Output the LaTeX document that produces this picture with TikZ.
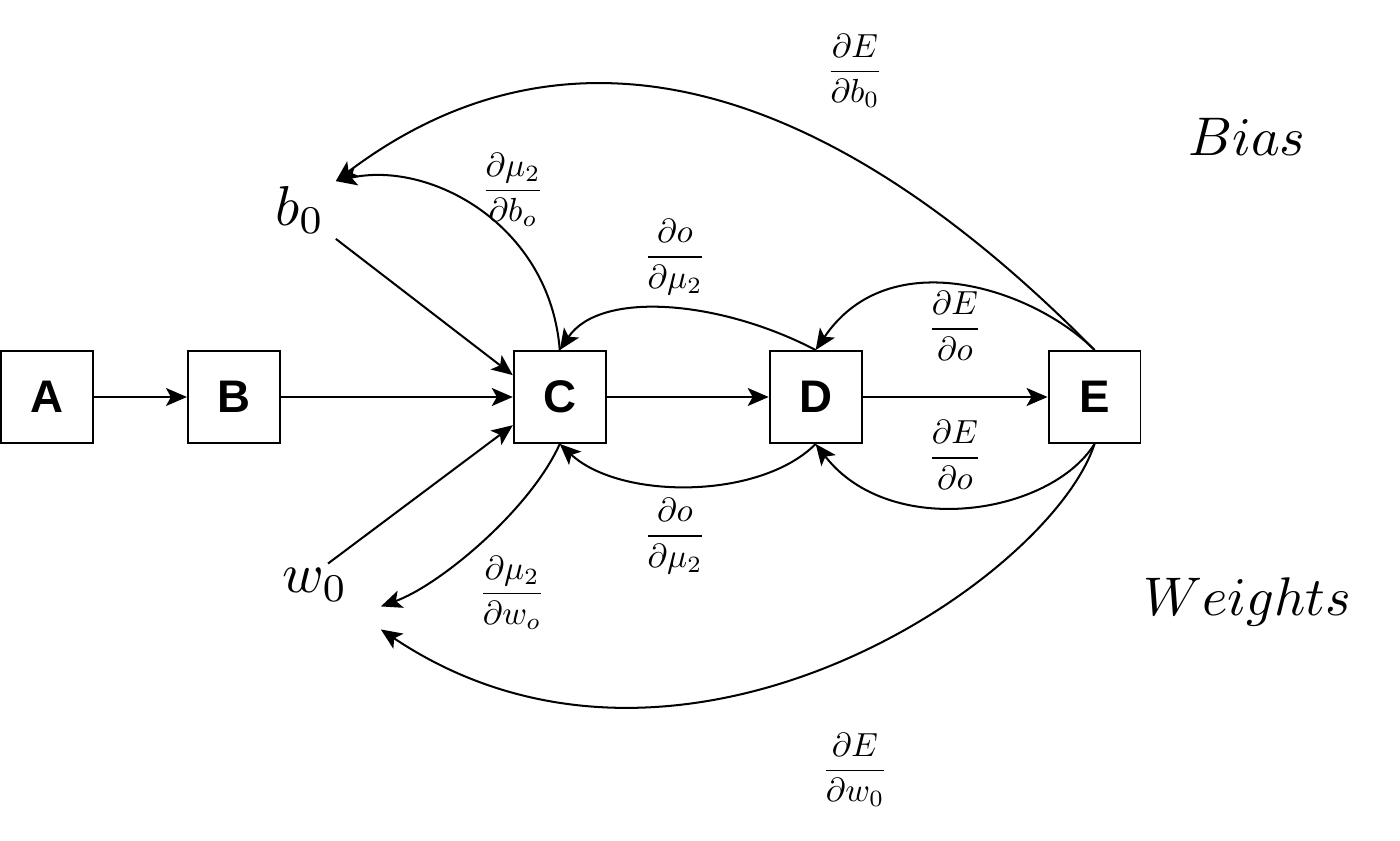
\documentclass[tikz,border=0pt]{standalone}
\usepackage{amsmath}
\usepackage{fontspec}
\newfontfamily\boxfont{Liberation Sans}
\usetikzlibrary{arrows.meta,positioning}

\begin{document}
\begin{tikzpicture}[x=0.02cm,y=0.02cm,blk/.style={draw,line width=1.1pt,minimum size=1.84cm,inner sep=0pt,font=\boxfont\bfseries\fontsize{26}{30}\selectfont},arr/.style={-{Stealth[length=0.42cm,width=0.36cm,inset=0.1cm]},line width=1.15pt},var/.style={scale=3.2},grp/.style={scale=3.1},frc/.style={scale=1.9}]
\useasboundingbox (0,0) rectangle (1400,-841);
\node[blk] (A) at (47,-397) {A};
\node[blk,right=1.86cm of A] (B) {B};
\node[blk,right=4.64cm of B] (C) {C};
\node[blk,right=3.24cm of C] (D) {D};
\node[blk,right=3.70cm of D] (E) {E};
\node[var,inner xsep=0.0625cm,inner ysep=0.025cm] (b0) at (300,-210) {$b_0$};
\node[var,inner xsep=0.2cm,inner ysep=0.025cm] (w0) at (315,-585) {$w_0$};
\node[grp] (bias) at (1247,-137) {$Bias$};
\node[grp] (wts) at (1247,-602) {$Weights$};
% labels of the gradients
\node[frc] (dEb) at (855,-71) {$\dfrac{\partial E}{\partial b_0}$};
\node[frc] (dmb) at (513,-190) {$\dfrac{\partial \mu_2}{\partial b_o}$};
\node[frc] (doa) at (675,-257) {$\dfrac{\partial o}{\partial \mu_2}$};
\node[frc] (dEa) at (955,-326) {$\dfrac{\partial E}{\partial o}$};
\node[frc] (dEc) at (955,-455) {$\dfrac{\partial E}{\partial o}$};
\node[frc] (doc) at (675,-536) {$\dfrac{\partial o}{\partial \mu_2}$};
\node[frc] (dmw) at (512,-593) {$\dfrac{\partial \mu_2}{\partial w_o}$};
\node[frc] (dEw) at (855,-770) {$\dfrac{\partial E}{\partial w_0}$};
% forward
\draw[arr] (A)--(B);
\draw[arr] (B)--(C);
\draw[arr] (C)--(D);
\draw[arr] (D)--(E);
\draw[arr] (b0.south east)--(C.155);
\draw[arr] ([xshift=0.26cm]w0.north)--(C.211);
% backward
\draw[arr] (C.north) .. controls (550,-225) and (430,-160) .. (b0.north east);
\draw[arr] (C.south) .. controls (530,-510) and (440,-585) .. (w0.south east);
\draw[arr] (D.north) .. controls (720,-300) and (600,-290) .. (C.north);
\draw[arr] (D.south) .. controls (760,-500) and (620,-500) .. (C.south);
\draw[arr] (E.north) .. controls (1035,-290) and (890,-240) .. (D.north);
\draw[arr] (E.south) .. controls (1050,-515) and (890,-540) .. (D.south);
\draw[arr] (E.north) .. controls (720,30) and (470,-80) .. (b0.north east);
\draw[arr] (E.south) .. controls (1050,-580) and (680,-830) .. ([yshift=-0.46cm]w0.south east);
\end{tikzpicture}
\end{document}
